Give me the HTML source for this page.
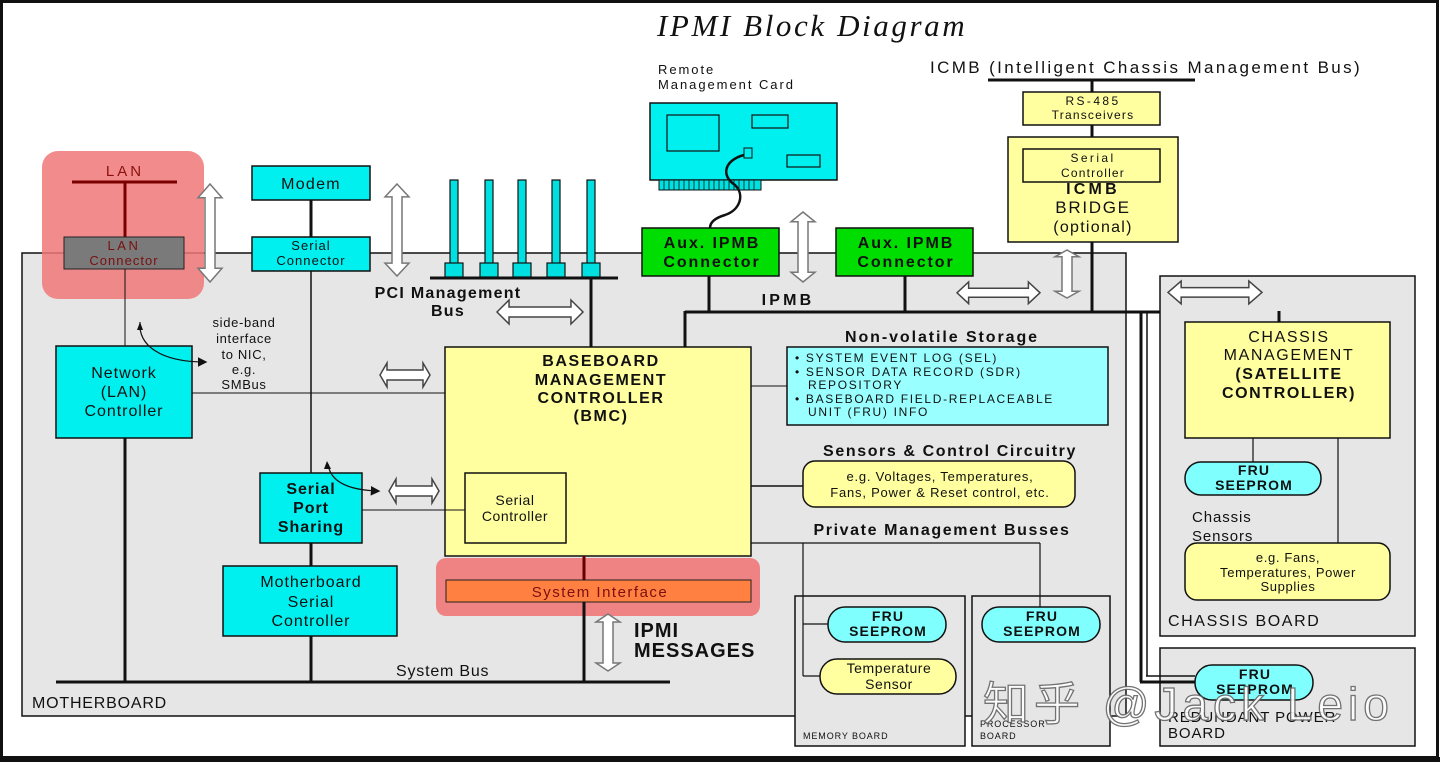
<!DOCTYPE html>
<html><head><meta charset="utf-8"><style>
html,body{margin:0;padding:0;background:#fff}
svg{display:block}
text{font-family:"Liberation Sans",Arial,sans-serif;fill:#111;letter-spacing:0.2em}
.b{font-weight:bold}
.c{text-anchor:middle}
</style></head><body>
<svg width="1440" height="762" viewBox="0 0 1440 762" xmlns="http://www.w3.org/2000/svg">
<defs>
<path id="va" d="M12,0 L24,14 L17,14 L17,86 L24,86 L12,100 L0,86 L7,86 L7,14 L0,14 Z" fill="#fff" stroke="#777" stroke-width="1.5" vector-effect="non-scaling-stroke"/>
<path id="ha" d="M0,12 L14,0 L14,7 L86,7 L86,0 L100,12 L86,24 L86,17 L14,17 L14,24 Z" fill="#fff" stroke="#444" stroke-width="1.5" vector-effect="non-scaling-stroke"/>
<marker id="ar" markerWidth="8" markerHeight="8" refX="6" refY="4" orient="auto"><path d="M0,0 L8,4 L0,8 Z" fill="#111"/></marker>
</defs>
<rect x="0" y="0" width="1440" height="762" fill="#fff"/>
<rect x="1.5" y="1.5" width="1436" height="756" fill="none" stroke="#111" stroke-width="3"/>
<rect x="0" y="757" width="1440" height="5" fill="#111"/>

<text x="657" y="36" style="font-family:'Liberation Serif',serif;font-style:italic;font-size:31px;letter-spacing:2.6px">IPMI Block Diagram</text>

<!-- Motherboard -->
<rect x="22" y="253" width="1104" height="463" fill="#e6e6e6" stroke="#111" stroke-width="1.5"/>
<text x="32" y="708" font-size="16" style="letter-spacing:0.05em">MOTHERBOARD</text>

<!-- LAN highlight -->
<rect x="42" y="151" width="162" height="148" rx="16" fill="#f07878" opacity="0.85"/>
<text x="125" y="176" class="c" font-size="15" style="fill:#8b1010">LAN</text>
<line x1="72" y1="182" x2="177" y2="182" stroke="#7a0000" stroke-width="3"/>
<line x1="125" y1="182" x2="125" y2="237" stroke="#7a0000" stroke-width="3"/>
<rect x="64" y="237" width="120" height="32" fill="#7a7a7a" stroke="#222"/>
<text x="124" y="250" class="c" font-size="13" style="fill:#7a1010">LAN</text>
<text x="124" y="265" class="c" font-size="13" style="fill:#7a1010;letter-spacing:0.08em">Connector</text>
<line x1="125" y1="269" x2="125" y2="346" stroke="#111"/>
<use href="#va" transform="translate(198,184) scale(1,0.98)"/>

<!-- Modem -->
<rect x="252" y="166" width="118" height="34" fill="#00f0f0" stroke="#111" stroke-width="1.5"/>
<text x="311" y="189" class="c" font-size="16" style="letter-spacing:0.08em">Modem</text>
<line x1="311" y1="200" x2="311" y2="237" stroke="#111" stroke-width="3"/>
<rect x="252" y="237" width="118" height="34" fill="#00f0f0" stroke="#111" stroke-width="1.5"/>
<text x="311" y="250" class="c" font-size="13" style="letter-spacing:0.08em">Serial</text>
<text x="311" y="265" class="c" font-size="13" style="letter-spacing:0.08em">Connector</text>
<line x1="311" y1="271" x2="311" y2="473" stroke="#111" stroke-width="1.5"/>
<use href="#va" transform="translate(385,184) scale(1,0.92)"/>

<!-- PCI slots -->
<g fill="#00e0e0" stroke="#111" stroke-width="1.2">
<rect x="450" y="180" width="8" height="90"/><rect x="445" y="263" width="18" height="14"/>
<rect x="485" y="180" width="8" height="90"/><rect x="480" y="263" width="18" height="14"/>
<rect x="518" y="180" width="8" height="90"/><rect x="513" y="263" width="18" height="14"/>
<rect x="552" y="180" width="8" height="90"/><rect x="547" y="263" width="18" height="14"/>
<rect x="587" y="180" width="8" height="90"/><rect x="582" y="263" width="18" height="14"/>
</g>
<line x1="430" y1="278" x2="618" y2="278" stroke="#111" stroke-width="3"/>
<text x="448" y="298" class="c b" font-size="16" style="letter-spacing:0.08em">PCI Management</text>
<text x="448" y="316" class="c b" font-size="16" style="letter-spacing:0.08em">Bus</text>
<use href="#ha" transform="translate(497,300) scale(0.86,1)"/>
<line x1="591" y1="278" x2="591" y2="347" stroke="#111" stroke-width="3"/>

<!-- Network controller -->
<rect x="56" y="346" width="136" height="92" fill="#00f0f0" stroke="#111" stroke-width="1.5"/>
<text x="124" y="378" class="c" font-size="16" style="letter-spacing:0.06em">Network</text>
<text x="124" y="397" class="c" font-size="16" style="letter-spacing:0.06em">(LAN)</text>
<text x="124" y="416" class="c" font-size="16" style="letter-spacing:0.06em">Controller</text>
<line x1="125" y1="438" x2="125" y2="682" stroke="#111" stroke-width="3"/>
<line x1="192" y1="393" x2="445" y2="393" stroke="#111"/>
<text x="244" y="327" class="c" font-size="13" style="letter-spacing:0.05em">side-band</text>
<text x="244" y="343" class="c" font-size="13" style="letter-spacing:0.05em">interface</text>
<text x="244" y="359" class="c" font-size="13" style="letter-spacing:0.05em">to NIC,</text>
<text x="244" y="374" class="c" font-size="13" style="letter-spacing:0.05em">e.g.</text>
<text x="244" y="389" class="c" font-size="13" style="letter-spacing:0.05em">SMBus</text>
<path d="M140,322 C138,345 160,362 205,362" fill="none" stroke="#111" stroke-width="1.2" marker-end="url(#ar)"/>
<path d="M140,322 L137,330 L143,330 Z" fill="#111"/>
<use href="#ha" transform="translate(380,363) scale(0.5,1)"/>

<!-- BMC -->
<rect x="445" y="347" width="306" height="209" fill="#ffffa0" stroke="#111" stroke-width="1.5"/>
<text x="601" y="366" class="c b" font-size="16" style="letter-spacing:0.1em">BASEBOARD</text>
<text x="601" y="385" class="c b" font-size="16" style="letter-spacing:0.1em">MANAGEMENT</text>
<text x="601" y="403" class="c b" font-size="16" style="letter-spacing:0.1em">CONTROLLER</text>
<text x="601" y="421" class="c b" font-size="16" style="letter-spacing:0.1em">(BMC)</text>
<rect x="465" y="473" width="101" height="70" fill="#ffffa0" stroke="#111" stroke-width="1.5"/>
<text x="515" y="505" class="c" font-size="14" style="letter-spacing:0.04em">Serial</text>
<text x="515" y="521" class="c" font-size="14" style="letter-spacing:0.04em">Controller</text>

<!-- Serial port sharing -->
<rect x="260" y="473" width="102" height="70" fill="#00f0f0" stroke="#111" stroke-width="1.5"/>
<text x="311" y="494" class="c b" font-size="16" style="letter-spacing:0.06em">Serial</text>
<text x="311" y="513" class="c b" font-size="16" style="letter-spacing:0.06em">Port</text>
<text x="311" y="532" class="c b" font-size="16" style="letter-spacing:0.06em">Sharing</text>
<line x1="362" y1="510" x2="465" y2="510" stroke="#111"/>
<use href="#ha" transform="translate(389,479) scale(0.5,1)"/>
<path d="M328,464 C330,480 345,490 378,491" fill="none" stroke="#111" stroke-width="1.2" marker-end="url(#ar)"/>
<path d="M327,461 L324,469 L331,469 Z" fill="#111"/>
<line x1="311" y1="543" x2="311" y2="566" stroke="#111" stroke-width="3"/>
<rect x="223" y="566" width="174" height="70" fill="#00f0f0" stroke="#111" stroke-width="1.5"/>
<text x="311" y="587" class="c" font-size="16" style="letter-spacing:0.06em">Motherboard</text>
<text x="311" y="607" class="c" font-size="16" style="letter-spacing:0.06em">Serial</text>
<text x="311" y="626" class="c" font-size="16" style="letter-spacing:0.06em">Controller</text>
<line x1="311" y1="636" x2="311" y2="682" stroke="#111" stroke-width="3"/>

<!-- System interface -->
<rect x="436" y="558" width="324" height="58" rx="10" fill="#f07878" opacity="0.9"/>
<line x1="584" y1="556" x2="584" y2="580" stroke="#600" stroke-width="3"/>
<rect x="446" y="580" width="305" height="22" fill="#ff8040" stroke="#222"/>
<text x="600" y="597" class="c" font-size="15" style="fill:#7a1010;letter-spacing:0.1em">System Interface</text>
<line x1="584" y1="602" x2="584" y2="682" stroke="#111" stroke-width="3"/>
<use href="#va" transform="translate(596,614) scale(1,0.57)"/>
<text x="634" y="637" class="b" font-size="20" style="letter-spacing:0.05em">IPMI</text>
<text x="634" y="657" class="b" font-size="20" style="letter-spacing:0.05em">MESSAGES</text>
<line x1="56" y1="682" x2="670" y2="682" stroke="#111" stroke-width="3"/>
<text x="396" y="676" font-size="16" style="letter-spacing:0.05em">System Bus</text>

<!-- Remote management card -->
<text x="658" y="74" font-size="13" style="letter-spacing:0.15em">Remote</text>
<text x="658" y="89" font-size="13" style="letter-spacing:0.15em">Management Card</text>
<rect x="650" y="103" width="187" height="77" fill="#00f0f0" stroke="#111" stroke-width="1.5"/>
<rect x="667" y="115" width="52" height="36" fill="#00f0f0" stroke="#111" stroke-width="1.2"/>
<rect x="752" y="115" width="36" height="13" fill="#00f0f0" stroke="#111" stroke-width="1.2"/>
<rect x="787" y="155" width="33" height="12" fill="#00f0f0" stroke="#111" stroke-width="1.2"/>
<rect x="744" y="148" width="8" height="10" fill="#00f0f0" stroke="#111"/>
<rect x="659" y="180" width="102" height="10" fill="#00e0e0" stroke="#111"/>
<g stroke="#111" stroke-width="0.8">
<line x1="664" y1="180" x2="664" y2="190"/><line x1="669" y1="180" x2="669" y2="190"/><line x1="674" y1="180" x2="674" y2="190"/><line x1="679" y1="180" x2="679" y2="190"/><line x1="684" y1="180" x2="684" y2="190"/><line x1="689" y1="180" x2="689" y2="190"/><line x1="694" y1="180" x2="694" y2="190"/><line x1="699" y1="180" x2="699" y2="190"/><line x1="704" y1="180" x2="704" y2="190"/><line x1="709" y1="180" x2="709" y2="190"/><line x1="714" y1="180" x2="714" y2="190"/><line x1="719" y1="180" x2="719" y2="190"/><line x1="724" y1="180" x2="724" y2="190"/><line x1="729" y1="180" x2="729" y2="190"/><line x1="734" y1="180" x2="734" y2="190"/><line x1="739" y1="180" x2="739" y2="190"/><line x1="744" y1="180" x2="744" y2="190"/><line x1="749" y1="180" x2="749" y2="190"/><line x1="754" y1="180" x2="754" y2="190"/>
</g>
<path d="M744,155 C725,160 720,175 735,185 C745,195 740,210 725,215 C715,218 710,222 710,228" fill="none" stroke="#111" stroke-width="2.5"/>

<!-- Aux IPMB -->
<rect x="642" y="228" width="137" height="48" fill="#00dd00" stroke="#111" stroke-width="1.5"/>
<text x="712" y="248" class="c b" font-size="16" style="letter-spacing:0.12em">Aux. IPMB</text>
<text x="712" y="267" class="c b" font-size="16" style="letter-spacing:0.12em">Connector</text>
<rect x="836" y="228" width="137" height="48" fill="#00dd00" stroke="#111" stroke-width="1.5"/>
<text x="906" y="248" class="c b" font-size="16" style="letter-spacing:0.12em">Aux. IPMB</text>
<text x="906" y="267" class="c b" font-size="16" style="letter-spacing:0.12em">Connector</text>
<use href="#va" transform="translate(791,212) scale(1,0.7)"/>
<line x1="709" y1="276" x2="709" y2="312" stroke="#111" stroke-width="3"/>
<line x1="905" y1="276" x2="905" y2="312" stroke="#111" stroke-width="3"/>
<text x="788" y="305" class="c b" font-size="16">IPMB</text>
<line x1="685" y1="312" x2="1280" y2="312" stroke="#111" stroke-width="3"/>
<line x1="685" y1="311" x2="685" y2="347" stroke="#111" stroke-width="3"/>
<line x1="1279" y1="311" x2="1279" y2="322" stroke="#111" stroke-width="3"/>

<!-- ICMB -->
<text x="930" y="73" font-size="17" style="letter-spacing:0.14em">ICMB (Intelligent Chassis Management Bus)</text>
<line x1="988" y1="80" x2="1195" y2="80" stroke="#111" stroke-width="3"/>
<line x1="1092" y1="80" x2="1092" y2="92" stroke="#111" stroke-width="3"/>
<rect x="1023" y="92" width="137" height="33" fill="#ffffa0" stroke="#111" stroke-width="1.5"/>
<text x="1093" y="105" class="c" font-size="12">RS-485</text>
<text x="1093" y="119" class="c" font-size="12" style="letter-spacing:0.1em">Transceivers</text>
<line x1="1092" y1="125" x2="1092" y2="137" stroke="#111" stroke-width="3"/>
<rect x="1008" y="137" width="170" height="105" fill="#ffffa0" stroke="#111" stroke-width="1.5"/>
<rect x="1023" y="149" width="137" height="33" fill="#ffffa0" stroke="#111" stroke-width="1.5"/>
<text x="1093" y="162" class="c" font-size="12">Serial</text>
<text x="1093" y="177" class="c" font-size="12" style="letter-spacing:0.1em">Controller</text>
<text x="1093" y="194" class="c b" font-size="16">ICMB</text>
<text x="1093" y="213" class="c" font-size="17" style="letter-spacing:0.1em">BRIDGE</text>
<text x="1093" y="232" class="c" font-size="16" style="letter-spacing:0.08em">(optional)</text>
<line x1="1092" y1="242" x2="1092" y2="312" stroke="#111" stroke-width="3"/>
<use href="#va" transform="translate(1055,250) scale(1,0.48)"/>
<use href="#ha" transform="translate(957,282) scale(0.83,0.9)"/>

<!-- Non-volatile -->
<text x="942" y="342" class="c b" font-size="16" style="letter-spacing:0.12em">Non-volatile Storage</text>
<rect x="787" y="347" width="321" height="78" fill="#99ffff" stroke="#111" stroke-width="1.5"/>
<line x1="751" y1="386" x2="787" y2="386" stroke="#111"/>
<text x="795" y="362" font-size="12" style="letter-spacing:0.14em">•  SYSTEM EVENT LOG (SEL)</text>
<text x="795" y="376" font-size="12" style="letter-spacing:0.14em">•  SENSOR DATA RECORD (SDR)</text>
<text x="808" y="389" font-size="12" style="letter-spacing:0.14em">REPOSITORY</text>
<text x="795" y="403" font-size="12" style="letter-spacing:0.14em">•  BASEBOARD FIELD-REPLACEABLE</text>
<text x="808" y="416" font-size="12" style="letter-spacing:0.14em">UNIT (FRU) INFO</text>

<text x="950" y="456" class="c b" font-size="16" style="letter-spacing:0.1em">Sensors &amp; Control Circuitry</text>
<rect x="803" y="461" width="272" height="46" rx="12" fill="#ffffa0" stroke="#111" stroke-width="1.5"/>
<text x="940" y="481" class="c" font-size="13" style="letter-spacing:0.06em">e.g. Voltages, Temperatures,</text>
<text x="940" y="497" class="c" font-size="13" style="letter-spacing:0.06em">Fans, Power &amp; Reset control, etc.</text>
<line x1="751" y1="486" x2="803" y2="486" stroke="#111" stroke-width="1.5"/>

<text x="942" y="535" class="c b" font-size="16" style="letter-spacing:0.1em">Private Management Busses</text>
<line x1="751" y1="543" x2="1040" y2="543" stroke="#111" stroke-width="1.2"/>

<!-- Memory board -->
<rect x="795" y="596" width="170" height="150" fill="#e6e6e6" stroke="#111" stroke-width="1.5"/>
<text x="803" y="739" font-size="9" style="letter-spacing:0.1em">MEMORY BOARD</text>
<line x1="803" y1="543" x2="803" y2="676" stroke="#111" stroke-width="1.2"/>
<line x1="803" y1="624" x2="828" y2="624" stroke="#111" stroke-width="1.2"/>
<line x1="803" y1="676" x2="820" y2="676" stroke="#111" stroke-width="1.2"/>
<rect x="828" y="607" width="118" height="35" rx="17" fill="#80ffff" stroke="#111" stroke-width="1.5"/>
<text x="888" y="621" class="c b" font-size="14" style="letter-spacing:0.08em">FRU</text>
<text x="888" y="636" class="c b" font-size="14" style="letter-spacing:0.08em">SEEPROM</text>
<rect x="820" y="659" width="136" height="35" rx="17" fill="#ffffa0" stroke="#111" stroke-width="1.5"/>
<text x="889" y="673" class="c" font-size="14" style="letter-spacing:0.04em">Temperature</text>
<text x="889" y="689" class="c" font-size="14" style="letter-spacing:0.04em">Sensor</text>

<!-- Processor board -->
<rect x="972" y="596" width="138" height="150" fill="#e6e6e6" stroke="#111" stroke-width="1.5"/>
<text x="980" y="727" font-size="9" style="letter-spacing:0.1em">PROCESSOR</text>
<text x="980" y="739" font-size="9" style="letter-spacing:0.1em">BOARD</text>
<line x1="1040" y1="543" x2="1040" y2="607" stroke="#111" stroke-width="1.2"/>
<rect x="982" y="607" width="118" height="35" rx="17" fill="#80ffff" stroke="#111" stroke-width="1.5"/>
<text x="1042" y="621" class="c b" font-size="14" style="letter-spacing:0.08em">FRU</text>
<text x="1042" y="636" class="c b" font-size="14" style="letter-spacing:0.08em">SEEPROM</text>

<!-- Chassis board -->
<rect x="1160" y="276" width="255" height="360" fill="#e6e6e6" stroke="#111" stroke-width="1.5"/>
<use href="#ha" transform="translate(1168,281) scale(0.94,0.95)"/>
<line x1="1279" y1="311" x2="1279" y2="322" stroke="#111" stroke-width="3"/>
<rect x="1185" y="322" width="205" height="116" fill="#ffffa0" stroke="#111" stroke-width="1.5"/>
<text x="1289" y="342" class="c" font-size="16" style="letter-spacing:0.1em">CHASSIS</text>
<text x="1289" y="360" class="c" font-size="16" style="letter-spacing:0.1em">MANAGEMENT</text>
<text x="1289" y="379" class="c b" font-size="16" style="letter-spacing:0.1em">(SATELLITE</text>
<text x="1289" y="398" class="c b" font-size="16" style="letter-spacing:0.1em">CONTROLLER)</text>
<line x1="1253" y1="438" x2="1253" y2="462" stroke="#111" stroke-width="1.2"/>
<line x1="1338" y1="438" x2="1338" y2="543" stroke="#111" stroke-width="1.2"/>
<rect x="1185" y="462" width="136" height="33" rx="16" fill="#80ffff" stroke="#111" stroke-width="1.5"/>
<text x="1254" y="475" class="c b" font-size="14" style="letter-spacing:0.08em">FRU</text>
<text x="1254" y="490" class="c b" font-size="14" style="letter-spacing:0.08em">SEEPROM</text>
<text x="1192" y="522" font-size="15" style="letter-spacing:0.06em">Chassis</text>
<text x="1192" y="541" font-size="15" style="letter-spacing:0.06em">Sensors</text>
<rect x="1185" y="543" width="205" height="57" rx="12" fill="#ffffa0" stroke="#111" stroke-width="1.5"/>
<text x="1288" y="562" class="c" font-size="13" style="letter-spacing:0.05em">e.g. Fans,</text>
<text x="1288" y="577" class="c" font-size="13" style="letter-spacing:0.05em">Temperatures, Power</text>
<text x="1288" y="591" class="c" font-size="13" style="letter-spacing:0.05em">Supplies</text>
<text x="1168" y="626" font-size="16" style="letter-spacing:0.1em">CHASSIS BOARD</text>

<!-- Redundant power -->
<rect x="1160" y="648" width="255" height="98" fill="#e6e6e6" stroke="#111" stroke-width="1.5"/>
<line x1="1141" y1="312" x2="1141" y2="682" stroke="#111" stroke-width="3"/>
<line x1="1147" y1="312" x2="1147" y2="676" stroke="#111" stroke-width="1.5"/>
<line x1="1140" y1="682" x2="1195" y2="682" stroke="#111" stroke-width="3"/>
<line x1="1146" y1="676" x2="1195" y2="676" stroke="#111" stroke-width="1.5"/>
<rect x="1195" y="665" width="118" height="35" rx="17" fill="#80ffff" stroke="#111" stroke-width="1.5"/>
<text x="1255" y="679" class="c b" font-size="14" style="letter-spacing:0.08em">FRU</text>
<text x="1255" y="694" class="c b" font-size="14" style="letter-spacing:0.08em">SEEPROM</text>
<text x="1168" y="722" font-size="15" style="letter-spacing:0.06em">REDUNDANT POWER</text>
<text x="1168" y="738" font-size="15" style="letter-spacing:0.06em">BOARD</text>

<!-- watermark -->
<text x="983" y="720" font-size="46" style="font-family:'Liberation Sans','Noto Sans CJK SC',sans-serif;fill:#fff;stroke:#666;stroke-width:1.3;opacity:0.9;letter-spacing:5px">知乎 @Jack Leio</text>
</svg>
</body></html>
